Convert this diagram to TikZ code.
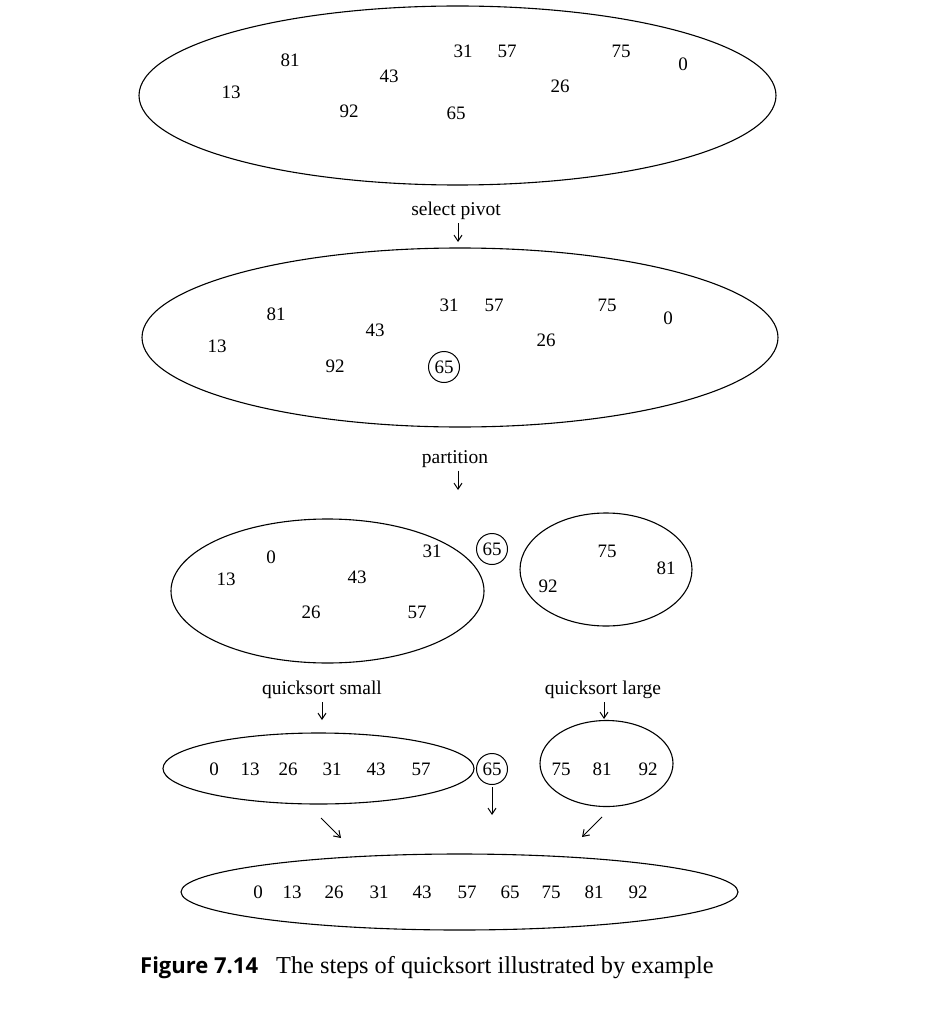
\documentclass[tikz,border=0pt]{standalone}
\usepackage{fontspec}
\setmainfont{Liberation Serif}
\newfontfamily\capsans{Open Sans}
\usetikzlibrary{shapes.geometric,arrows.meta}
\begin{document}
\begin{tikzpicture}[x=1pt,y=-1pt,
  num/.style={font=\fontsize{19}{19}\selectfont, inner sep=0pt},
  lab/.style={font=\fontsize{19.5}{19.5}\selectfont, inner sep=0pt},
  piv/.style={circle, draw, line width=1pt, minimum size=31pt, inner sep=0pt, font=\fontsize{19}{19}\selectfont},
  set/.style={ellipse, draw, line width=1.1pt, inner sep=0pt},
  arr/.style={-{Straight Barb[length=6pt,width=8pt]}, line width=1pt}]
\useasboundingbox (0,0) rectangle (930,1024);

% --- row 1
\node[set, minimum width=637pt, minimum height=179pt] (E1) at (457.5,95.5) {};
\node[num] (a81) at (290,60) {81};
\node[num] (a13) at (231,92) {13};
\node[num] (a92) at (349,111) {92};
\node[num] (a43) at (389,76) {43};
\node[num] (a31) at (463,51) {31};
\node[num] (a57) at (507,51) {57};
\node[num] (a65) at (456,113) {65};
\node[num] (a26) at (560,86) {26};
\node[num] (a75) at (621,51) {75};
\node[num] (a0) at (683,64) {0};

\node[lab] (sel) at (456,211) {select pivot};
\coordinate (selend) at (458,242);
\draw[arr] ([yshift=-3pt]sel.south -| selend) -- (selend);

% --- row 2
\node[set, minimum width=636pt, minimum height=179pt] (E2) at (460,337.5) {};
\node[num] (b81) at (276,314) {81};
\node[num] (b13) at (217,346) {13};
\node[num] (b92) at (335,366) {92};
\node[num] (b43) at (375,330) {43};
\node[num] (b31) at (449,305) {31};
\node[num] (b57) at (494,305) {57};
\node[piv] (b65) at (444,367) {65};
\node[num] (b26) at (546,340) {26};
\node[num] (b75) at (607,305) {75};
\node[num] (b0) at (668,318) {0};

\node[lab] (part) at (455,459) {partition};
\coordinate (partend) at (458,490);
\draw[arr] ([yshift=-3pt]part.south -| partend) -- (partend);

% --- row 3
\node[set, minimum width=313pt, minimum height=144pt] (E3) at (327.5,591) {};
\node[num] (c0) at (271,557) {0};
\node[num] (c13) at (226,579) {13};
\node[num] (c43) at (357,577) {43};
\node[num] (c31) at (432,551) {31};
\node[num] (c26) at (311,612) {26};
\node[num] (c57) at (417,612) {57};
\node[piv] (c65) at (492,549) {65};
\node[set, minimum width=172pt, minimum height=113pt] (E4) at (606,569.5) {};
\node[num] (c75) at (607,551) {75};
\node[num] (c81) at (666,568) {81};
\node[num] (c92) at (548,586) {92};

\node[lab] (qs) at (322,690) {quicksort small};
\node[lab] (ql) at (603,690) {quicksort large};
\coordinate (qsend) at (322,720);
\coordinate (qlend) at (604,719);
\draw[arr] ([yshift=-3pt]qs.south -| qsend) -- (qsend);
\draw[arr] ([yshift=-3pt]ql.south -| qlend) -- (qlend);

% --- row 4
\node[set, minimum width=311pt, minimum height=71pt] (E5) at (318.5,768.5) {};
\node[num] (d0) at (214,769) {0};
\node[num] (d13) at (250,769) {13};
\node[num] (d26) at (288,769) {26};
\node[num] (d31) at (332,769) {31};
\node[num] (d43) at (376,769) {43};
\node[num] (d57) at (421,769) {57};
\node[piv] (d65) at (492,769) {65};
\node[set, minimum width=133pt, minimum height=86pt] (E6) at (606.5,763.5) {};
\node[num] (d75) at (561,769) {75};
\node[num] (d81) at (602,769) {81};
\node[num] (d92) at (648,769) {92};

\coordinate (m1s) at (321,818);
\coordinate (m1e) at (341,838);
\coordinate (m2e) at (492,815);
\coordinate (m3s) at (602,817);
\coordinate (m3e) at (582,837);
\draw[arr] (m1s) -- (m1e);
\draw[arr] ([yshift=-2pt]d65.south) -- (m2e);
\draw[arr] (m3s) -- (m3e);

% --- row 5
\node[set, minimum width=557pt, minimum height=76pt] (E7) at (459.5,892) {};
\node[num] (e0) at (258,892) {0};
\node[num] (e13) at (292,892) {13};
\node[num] (e26) at (334,892) {26};
\node[num] (e31) at (379,892) {31};
\node[num] (e43) at (422,892) {43};
\node[num] (e57) at (467,892) {57};
\node[num] (e65) at (510,892) {65};
\node[num] (e75) at (551,892) {75};
\node[num] (e81) at (594,892) {81};
\node[num] (e92) at (638,892) {92};

% --- caption
\node[anchor=base west, inner sep=0pt, font=\capsans\bfseries\fontsize{22}{22}\selectfont] (figno) at (140,973) {Figure 7.14};
\node[anchor=base west, inner sep=0pt, font=\fontsize{24.3}{24.3}\selectfont] (cap) at (276,973) {The steps of quicksort illustrated by example};
\end{tikzpicture}
\end{document}
